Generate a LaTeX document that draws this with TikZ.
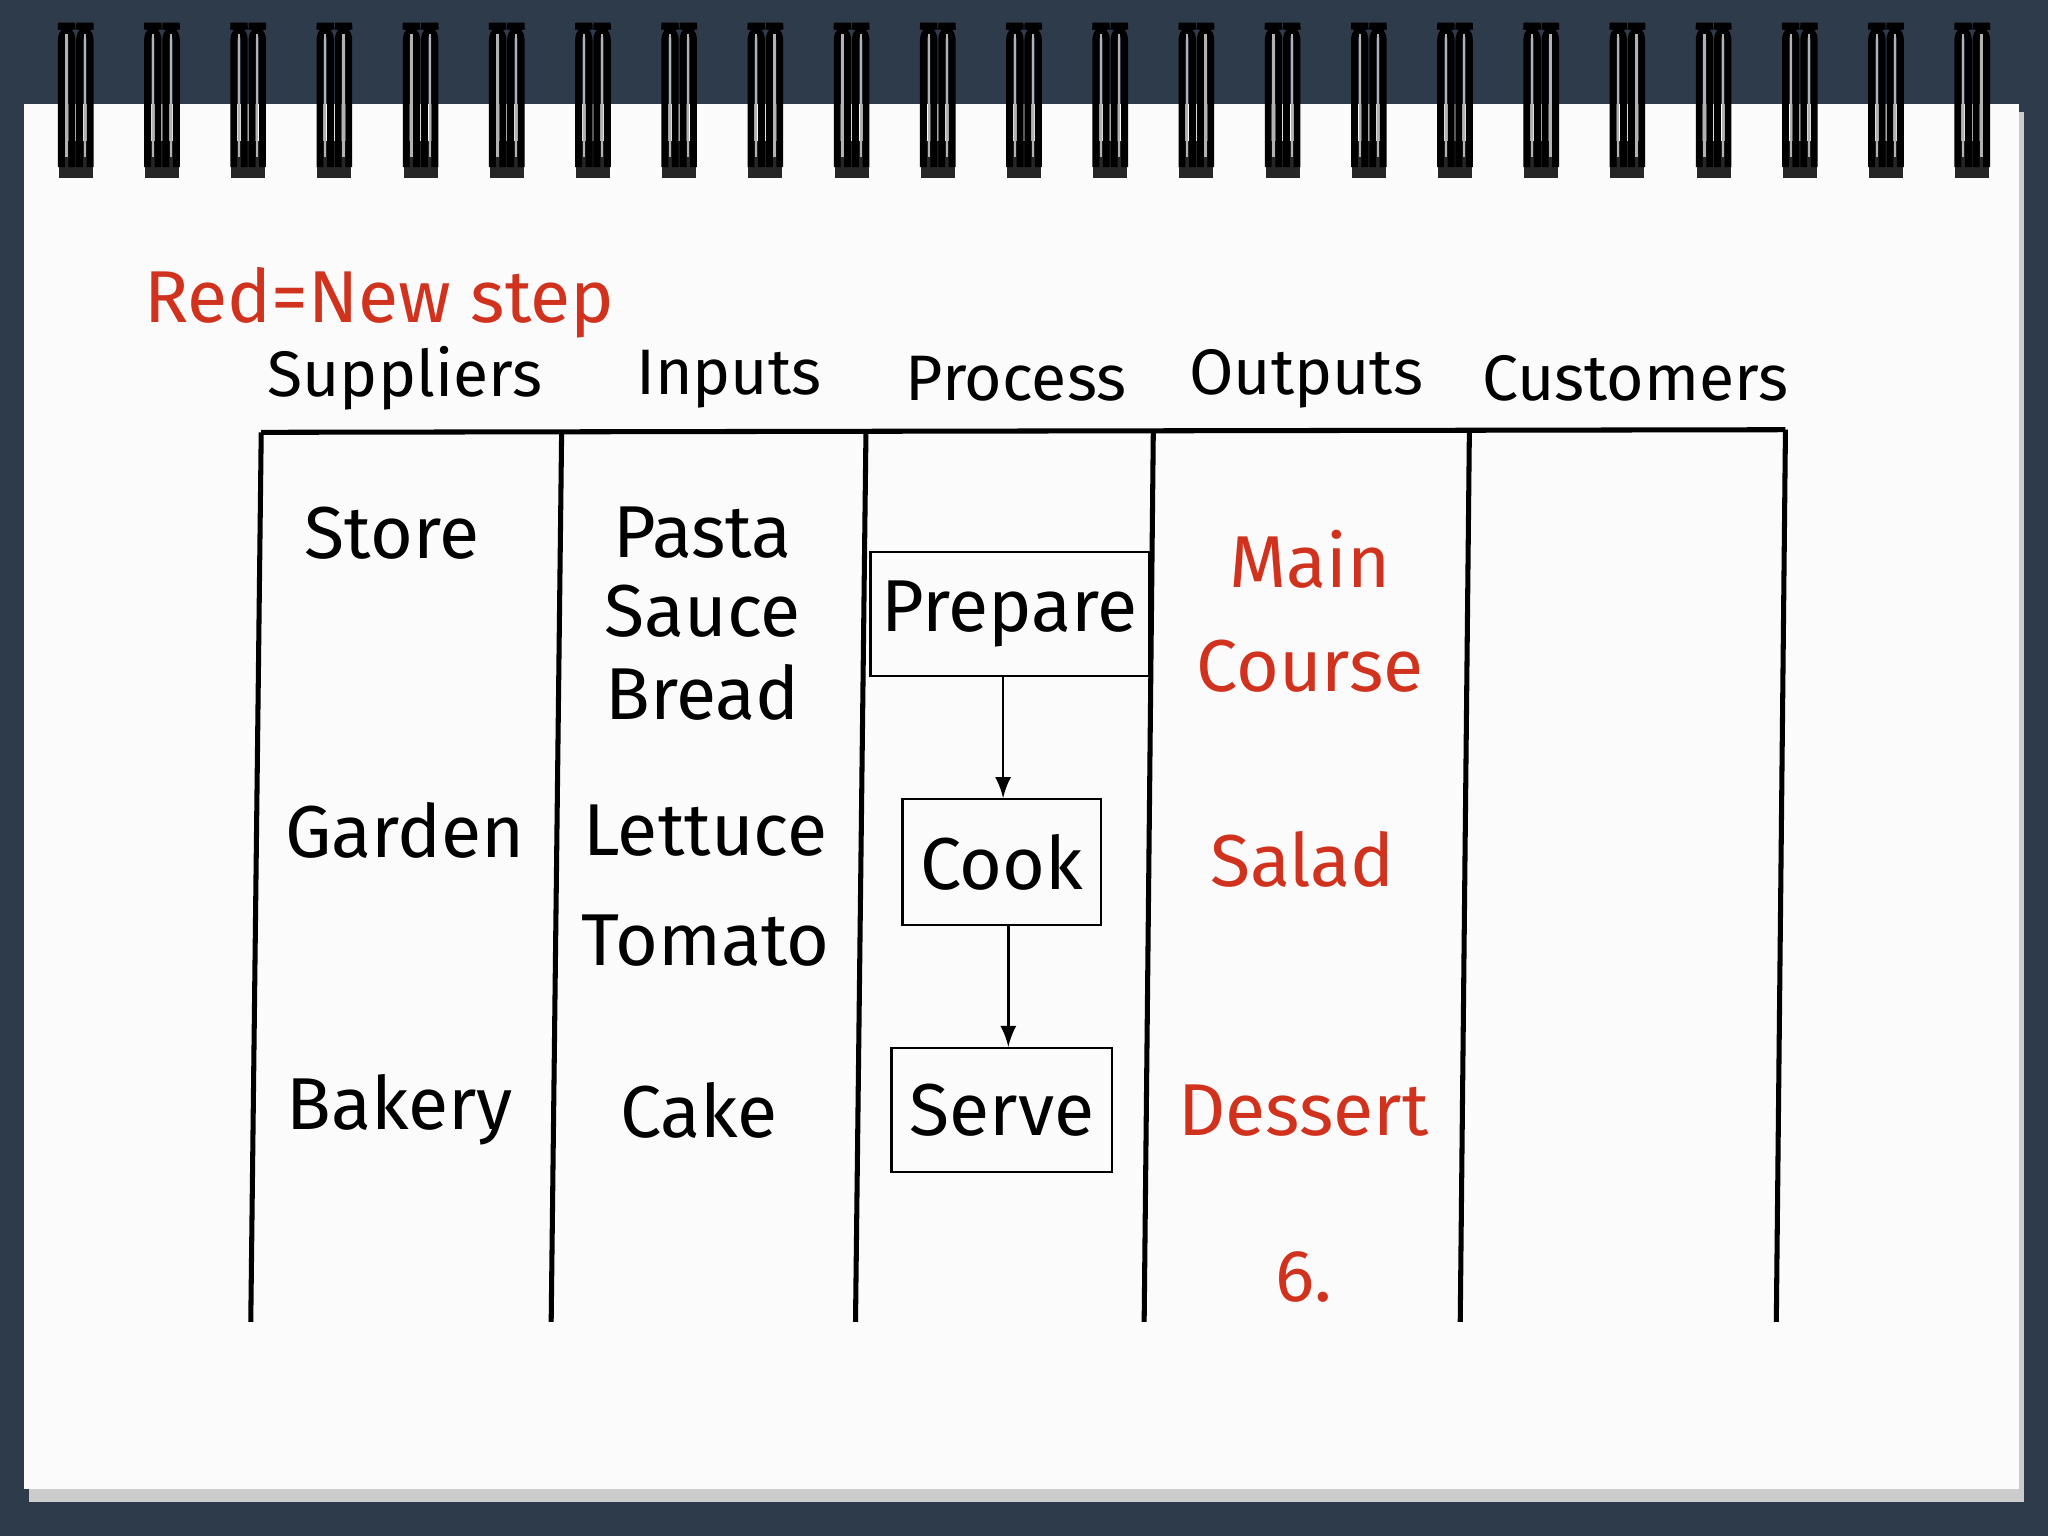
\documentclass[tikz,border=0pt]{standalone}
\usepackage{fontspec}
\setmainfont{Fira Sans}
\begin{document}
\begin{tikzpicture}[x=0.01cm,y=-0.01cm,
  txt/.style={font=\fontsize{16}{18}\selectfont,text=black},
  rtxt/.style={font=\fontsize{16}{18}\selectfont,text=redc},
  hdr/.style={font=\fontsize{14}{16}\selectfont},
  pbox/.style={draw,line width=0.5pt,inner sep=0pt},
  lane/.style={line width=1.1pt},
  arr/.style={-latex,line width=0.6pt}]
\definecolor{bg}{HTML}{2E3B4B}
\definecolor{redc}{HTML}{D0321E}
\fill[bg] (0,0) rectangle (1568,1176);
\useasboundingbox (0,0) rectangle (1568,1176);
\fill[gray!40] (22,86) rectangle (1550,1150);
\fill[white!97!gray] (18,80) rectangle (1546,1140);
% rings
\foreach \i in {0,...,22}{
  \pgfmathsetmacro{\xx}{58+\i*66.0}
  \fill[black!85] (\xx-13,108) rectangle (\xx+13,136);
  \foreach \d in {-7,7}{
    \draw[black,line width=1.5pt,rounded corners=3pt] (\xx+\d-4,128) -- (\xx+\d-4,20) -- (\xx+\d+4,20) -- (\xx+\d+4,128);
    \draw[gray!60,line width=0.5pt] (\xx+\d,26) -- (\xx+\d,120);
  }
}
\node[rtxt,anchor=west] (red) at (98,232) {Red=New step};
\node[hdr] (h1) at (310,290) {Suppliers};
\node[hdr] (h2) at (558,290) {Inputs};
\node[hdr] (h3) at (778,290) {Process};
\node[hdr] (h4) at (1000,290) {Outputs};
\node[hdr] (h5) at (1252,290) {Customers};
\draw[lane] (200,331) -- (1367,329);
\draw[lane] (200,331) -- (192,1012);
\draw[lane] (430,331) -- (422,1012);
\draw[lane] (663,331) -- (655,1012);
\draw[lane] (883,331) -- (876,1012);
\draw[lane] (1125,330) -- (1118,1012);
\draw[lane] (1367,329) -- (1360,1012);
\node[txt] (s1) at (300,408) {Store};
\node[txt] (i1) at (538,408) {Pasta};
\node[txt] (i2) at (538,468) {Sauce};
\node[txt] (i3) at (538,530) {Bread};
\node[txt] (s2) at (310,636) {Garden};
\node[txt] (i4) at (540,636) {Lettuce};
\node[txt] (i5) at (540,720) {Tomato};
\node[txt] (s3) at (306,850) {Bakery};
\node[txt] (i6) at (535,850) {Cake};
\node[pbox,txt,minimum width=213*0.01cm,minimum height=95*0.01cm] (p1) at (773,470) {Prepare};
\node[pbox,txt,minimum width=152*0.01cm,minimum height=96*0.01cm] (p2) at (767,660) {Cook};
\node[pbox,txt,minimum width=169*0.01cm,minimum height=95*0.01cm] (p3) at (767,850) {Serve};
\draw[arr] (p1.south -| 768,0) -- (p2.north -| 768,0);
\draw[arr] (p2.south -| 772,0) -- (p3.north -| 772,0);
\node[rtxt] (o1) at (1003,428) {Main};
\node[rtxt] (o2) at (1003,510) {Course};
\node[rtxt] (o3) at (997,658) {Salad};
\node[rtxt] (o4) at (998,850) {Dessert};
\node[rtxt] (o5) at (998,978) {6.};
\end{tikzpicture}
\end{document}
